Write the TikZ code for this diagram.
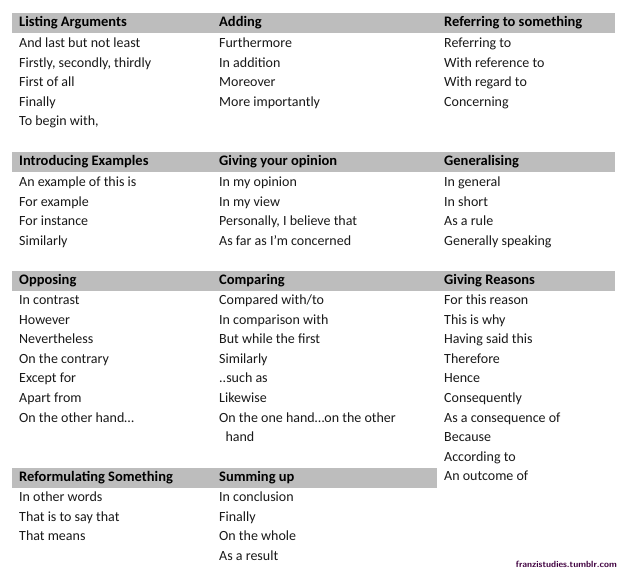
\documentclass[tikz,border=0pt]{standalone}
\usepackage{fontspec}
\setmainfont{Carlito}
\begin{document}
\begin{tikzpicture}[x=1pt,y=-1pt,
  bar/.style={fill=black!26,draw=none},
  hd/.style={anchor=west,inner sep=0pt,font=\fontsize{14.5}{16}\selectfont\bfseries,text height=10pt,text depth=3pt},
  it/.style={anchor=west,inner sep=0pt,font=\fontsize{14}{16}\selectfont,text height=10pt,text depth=3pt,text=black!90}]
\useasboundingbox (0,0) rectangle (627,574);
\fill[white] (0,0) rectangle (627,574);
\fill[bar] (12,13) rectangle (615,33);
\fill[bar] (12,152) rectangle (615,172);
\fill[bar] (12,271) rectangle (615,291);
\fill[bar] (12,468) rectangle (437,488);
% headers
\node[hd] (h11) at (19,23) {Listing Arguments};
\node[hd] (h12) at (219,23) {Adding};
\node[hd] (h13) at (444,23) {Referring to something};
\node[hd] (h21) at (19,162) {Introducing Examples};
\node[hd] (h22) at (219,162) {Giving your opinion};
\node[hd] (h23) at (444,162) {Generalising};
\node[hd] (h31) at (19,281) {Opposing};
\node[hd] (h32) at (219,281) {Comparing};
\node[hd] (h33) at (444,281) {Giving Reasons};
\node[hd] (h41) at (19,478) {Reformulating Something};
\node[hd] (h42) at (219,478) {Summing up};
% lists
\def\pitch{19.6}
\newcommand\col[4]{%
  \foreach \t [count=\i from 0] in {#4} {\node[it] (#1-\i) at (#2,#3+\i*\pitch) {\t};}}
\col{a1}{19}{44}{And last but not least,{Firstly, secondly, thirdly},First of all,Finally,{To begin with,}}
\col{a2}{219}{44}{Furthermore,In addition,Moreover,More importantly}
\col{a3}{444}{44}{Referring to,With reference to,With regard to,Concerning}
\col{b1}{19}{183}{An example of this is,For example,For instance,Similarly}
\col{b2}{219}{183}{In my opinion,In my view,{Personally, I believe that},As far as I’m concerned}
\col{b3}{444}{183}{In general,In short,As a rule,Generally speaking}
\col{c1}{19}{301}{In contrast,However,Nevertheless,On the contrary,Except for,Apart from,{On the other hand\ldots}}
\col{c2}{219}{301}{Compared with/to,In comparison with,But while the first,Similarly,{.{}.such as},Likewise,{On the one hand\ldots on the other},{\ \ hand}}
\col{c3}{444}{301}{For this reason,This is why,Having said this,Therefore,Hence,Consequently,As a consequence of,Because,According to,An outcome of}
\col{d1}{19}{498}{In other words,That is to say that,That means}
\col{d2}{219}{498}{In conclusion,Finally,On the whole,As a result}
\node[anchor=east,inner sep=0pt,font=\fontsize{9}{10}\selectfont\sffamily\bfseries,text=violet!50!black] (wm) at (617,564) {franzistudies.tumblr.com};
\end{tikzpicture}
\end{document}
